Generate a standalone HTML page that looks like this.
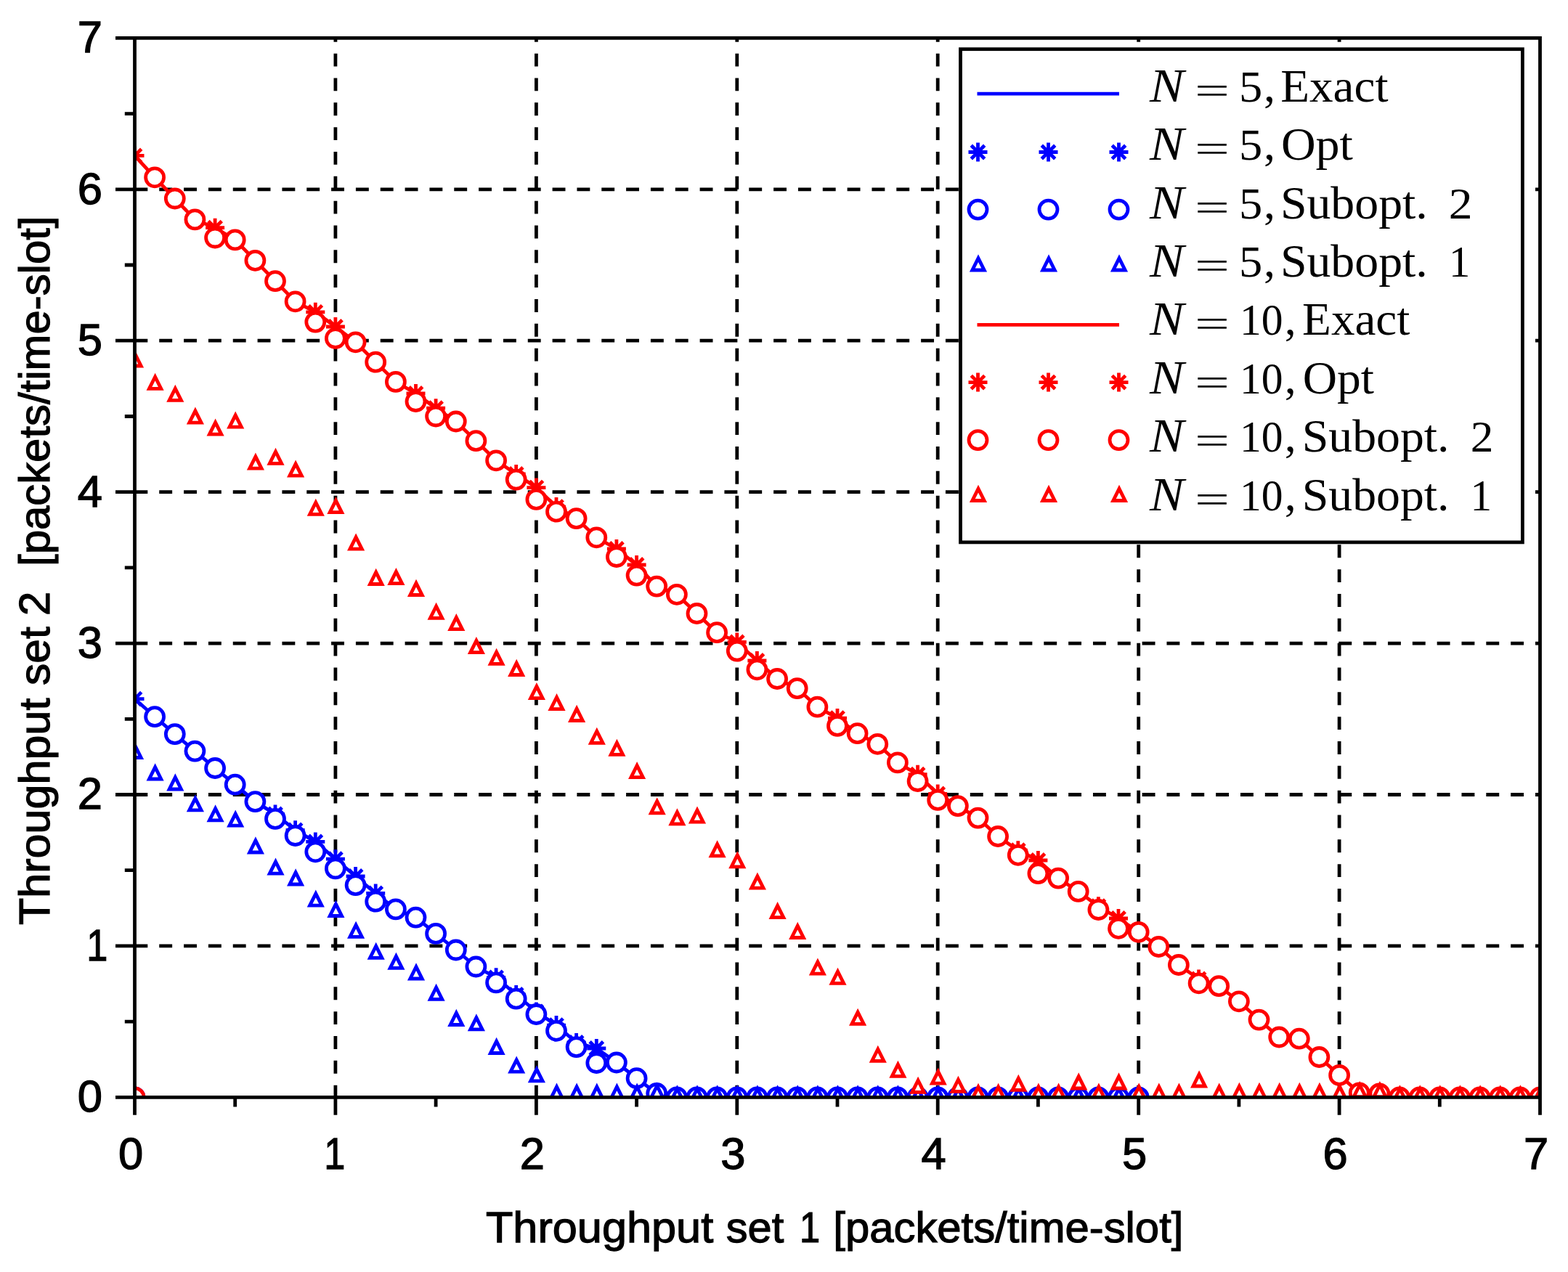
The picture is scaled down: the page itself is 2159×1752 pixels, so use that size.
<!DOCTYPE html>
<html><head><meta charset="utf-8"><title>Throughput plot</title>
<style>html,body{margin:0;padding:0;background:#fff;overflow:hidden}svg{display:block}</style>
</head><body>
<svg width="2159" height="1752" viewBox="0 0 2159 1752">
<rect width="2159" height="1752" fill="#fff"/>
<defs><clipPath id="ax"><rect x="185.5" y="52.4" width="1935" height="1458.9"/></clipPath></defs>
<path d="M461.9 1512.6V52.4M738.4 1512.6V52.4M1014.8 1512.6V52.4M1291.2 1512.6V52.4M1567.7 1512.6V52.4M1844.1 1512.6V52.4M185.4 1302.9H2120.5M185.4 1094.5H2120.5M185.4 886.1H2120.5M185.4 677.7H2120.5M185.4 469.2H2120.5M185.4 260.8H2120.5" stroke="#000" stroke-width="4.8" stroke-dasharray="17.9 15.935" fill="none"/>
<g clip-path="url(#ax)" stroke-width="4.8" stroke-linejoin="round">
<path d="M185.5 962.6 L213.1 987.2 L240.8 1011.1 L268.4 1034.6 L296.1 1058 L323.7 1080.7 L351.4 1104.1 L379 1121.4 L406.6 1143.3 L434.3 1159.4 L461.9 1183.2 L489.6 1207 L517.2 1230.4 L544.9 1252.4 L572.5 1263.7 L600.1 1285.9 L627.8 1308.5 L655.4 1331.5 L683.1 1346.3 L710.7 1370 L738.4 1393.5 L766 1412.1 L793.6 1436 L821.3 1444 L848.9 1463.5 L876.6 1485.2 L904.2 1506 L931.9 1511.3 L959.5 1511.3 L987.1 1511.3 L1014.8 1511.3 L1042.4 1511.3 L1070.1 1511.3 L1097.7 1511.3 L1125.4 1511.3 L1153 1511.3 L1180.6 1511.3 L1208.3 1511.3 L1235.9 1511.3 L1263.6 1511.3 L1291.2 1511.3 L1318.9 1511.3 L1346.5 1511.3 L1374.1 1511.3 L1401.8 1511.3 L1429.4 1511.3 L1457.1 1511.3 L1484.7 1511.3 L1512.4 1511.3 L1540 1511.3 L1567.7 1511.3" stroke="#0000ff" fill="none"/>
<g stroke-linecap="butt"><path d="M172.5 962.6H198.5M185.5 949.6V975.6M176.3 953.4L194.7 971.8M176.3 971.8L194.7 953.4" stroke="#0000ff"/><path d="M366 1121.4H392M379 1108.4V1134.4M369.8 1112.2L388.2 1130.6M369.8 1130.6L388.2 1112.2" stroke="#0000ff"/><path d="M393.6 1143.3H419.6M406.6 1130.3V1156.3M397.4 1134.1L415.8 1152.5M397.4 1152.5L415.8 1134.1" stroke="#0000ff"/><path d="M421.3 1159.4H447.3M434.3 1146.4V1172.4M425.1 1150.2L443.5 1168.6M425.1 1168.6L443.5 1150.2" stroke="#0000ff"/><path d="M448.9 1183.2H474.9M461.9 1170.2V1196.2M452.7 1174L471.1 1192.4M452.7 1192.4L471.1 1174" stroke="#0000ff"/><path d="M476.6 1207H502.6M489.6 1194V1220M480.4 1197.8L498.8 1216.2M480.4 1216.2L498.8 1197.8" stroke="#0000ff"/><path d="M504.2 1230.4H530.2M517.2 1217.4V1243.4M508 1221.2L526.4 1239.6M508 1239.6L526.4 1221.2" stroke="#0000ff"/><path d="M670.1 1346.3H696.1M683.1 1333.3V1359.3M673.9 1337.1L692.3 1355.5M673.9 1355.5L692.3 1337.1" stroke="#0000ff"/><path d="M697.7 1370H723.7M710.7 1357V1383M701.5 1360.8L719.9 1379.2M701.5 1379.2L719.9 1360.8" stroke="#0000ff"/><path d="M725.4 1393.5H751.4M738.4 1380.5V1406.5M729.2 1384.3L747.6 1402.7M729.2 1402.7L747.6 1384.3" stroke="#0000ff"/><path d="M753 1412.1H779M766 1399.1V1425.1M756.8 1402.9L775.2 1421.3M756.8 1421.3L775.2 1402.9" stroke="#0000ff"/><path d="M780.6 1436H806.6M793.6 1423V1449M784.4 1426.8L802.8 1445.2M784.4 1445.2L802.8 1426.8" stroke="#0000ff"/><path d="M808.3 1444H834.3M821.3 1431V1457M812.1 1434.8L830.5 1453.2M812.1 1453.2L830.5 1434.8" stroke="#0000ff"/></g>
<g stroke="#0000ff" fill="#fff"><circle cx="185.5" cy="1511.3" r="12.5"/><circle cx="213.1" cy="987.2" r="12.5"/><circle cx="240.8" cy="1011.1" r="12.5"/><circle cx="268.4" cy="1034.6" r="12.5"/><circle cx="296.1" cy="1058" r="12.5"/><circle cx="323.7" cy="1080.7" r="12.5"/><circle cx="351.4" cy="1104.1" r="12.5"/><circle cx="379" cy="1127.9" r="12.5"/><circle cx="406.6" cy="1151" r="12.5"/><circle cx="434.3" cy="1173.3" r="12.5"/><circle cx="461.9" cy="1196.4" r="12.5"/><circle cx="489.6" cy="1219.2" r="12.5"/><circle cx="517.2" cy="1241.7" r="12.5"/><circle cx="544.9" cy="1252.4" r="12.5"/><circle cx="572.5" cy="1263.7" r="12.5"/><circle cx="600.1" cy="1285.9" r="12.5"/><circle cx="627.8" cy="1308.5" r="12.5"/><circle cx="655.4" cy="1331.5" r="12.5"/><circle cx="683.1" cy="1353.4" r="12.5"/><circle cx="710.7" cy="1375.7" r="12.5"/><circle cx="738.4" cy="1397" r="12.5"/><circle cx="766" cy="1419.8" r="12.5"/><circle cx="793.6" cy="1442.1" r="12.5"/><circle cx="821.3" cy="1464" r="12.5"/><circle cx="848.9" cy="1463.5" r="12.5"/><circle cx="876.6" cy="1485.2" r="12.5"/><circle cx="904.2" cy="1506" r="12.5"/><circle cx="931.9" cy="1511.3" r="12.5"/><circle cx="959.5" cy="1511.3" r="12.5"/><circle cx="987.1" cy="1511.3" r="12.5"/><circle cx="1014.8" cy="1511.3" r="12.5"/><circle cx="1042.4" cy="1511.3" r="12.5"/><circle cx="1070.1" cy="1511.3" r="12.5"/><circle cx="1097.7" cy="1511.3" r="12.5"/><circle cx="1125.4" cy="1511.3" r="12.5"/><circle cx="1153" cy="1511.3" r="12.5"/><circle cx="1180.6" cy="1511.3" r="12.5"/><circle cx="1208.3" cy="1511.3" r="12.5"/><circle cx="1235.9" cy="1511.3" r="12.5"/><circle cx="1263.6" cy="1511.3" r="12.5"/><circle cx="1291.2" cy="1511.3" r="12.5"/><circle cx="1318.9" cy="1511.3" r="12.5"/><circle cx="1346.5" cy="1511.3" r="12.5"/><circle cx="1374.1" cy="1511.3" r="12.5"/><circle cx="1401.8" cy="1511.3" r="12.5"/><circle cx="1429.4" cy="1511.3" r="12.5"/><circle cx="1457.1" cy="1511.3" r="12.5"/><circle cx="1484.7" cy="1511.3" r="12.5"/><circle cx="1512.4" cy="1511.3" r="12.5"/><circle cx="1540" cy="1511.3" r="12.5"/><circle cx="1567.7" cy="1511.3" r="12.5"/></g>
<g stroke="#0000ff" fill="#fff" stroke-linejoin="miter"><path d="M186 1027.2L194.2 1043.5L177.8 1043.5Z"/><path d="M213.6 1056.7L221.8 1073L205.4 1073Z"/><path d="M241.3 1070.7L249.5 1087L233.1 1087Z"/><path d="M268.9 1099.6L277.1 1115.9L260.7 1115.9Z"/><path d="M296.6 1113.6L304.8 1129.9L288.4 1129.9Z"/><path d="M324.2 1120.8L332.4 1137.1L316 1137.1Z"/><path d="M351.9 1157.7L360.1 1174L343.7 1174Z"/><path d="M379.5 1186.8L387.7 1203.1L371.3 1203.1Z"/><path d="M407.1 1201.7L415.3 1218L398.9 1218Z"/><path d="M434.8 1230.8L443 1247.1L426.6 1247.1Z"/><path d="M462.4 1245.2L470.6 1261.5L454.2 1261.5Z"/><path d="M490.1 1274L498.3 1290.3L481.9 1290.3Z"/><path d="M517.7 1303L525.9 1319.3L509.5 1319.3Z"/><path d="M545.4 1317.1L553.6 1333.4L537.2 1333.4Z"/><path d="M573 1331.7L581.2 1348L564.8 1348Z"/><path d="M600.6 1360L608.8 1376.3L592.4 1376.3Z"/><path d="M628.3 1395.2L636.5 1411.5L620.1 1411.5Z"/><path d="M655.9 1401.6L664.1 1417.9L647.7 1417.9Z"/><path d="M683.6 1434.2L691.8 1450.5L675.4 1450.5Z"/><path d="M711.2 1459.9L719.4 1476.2L703 1476.2Z"/><path d="M738.9 1472.6L747.1 1488.9L730.7 1488.9Z"/><path d="M766.5 1496.9L774.7 1513.2L758.3 1513.2Z"/><path d="M794.1 1496.9L802.3 1513.2L785.9 1513.2Z"/><path d="M821.8 1496.9L830 1513.2L813.6 1513.2Z"/><path d="M849.4 1496.9L857.6 1513.2L841.2 1513.2Z"/><path d="M877.1 1496.9L885.3 1513.2L868.9 1513.2Z"/><path d="M904.7 1495.6L912.9 1511.9L896.5 1511.9Z"/><path d="M932.4 1499.6L940.6 1515.9L924.2 1515.9Z"/><path d="M960 1499.6L968.2 1515.9L951.8 1515.9Z"/><path d="M987.6 1499.6L995.8 1515.9L979.4 1515.9Z"/><path d="M1015.3 1499.6L1023.5 1515.9L1007.1 1515.9Z"/><path d="M1042.9 1499.6L1051.1 1515.9L1034.7 1515.9Z"/><path d="M1070.6 1499.6L1078.8 1515.9L1062.4 1515.9Z"/><path d="M1098.2 1499.6L1106.4 1515.9L1090 1515.9Z"/><path d="M1125.9 1499.6L1134.1 1515.9L1117.7 1515.9Z"/><path d="M1153.5 1499.6L1161.7 1515.9L1145.3 1515.9Z"/><path d="M1181.1 1499.6L1189.3 1515.9L1172.9 1515.9Z"/><path d="M1208.8 1499.6L1217 1515.9L1200.6 1515.9Z"/><path d="M1236.4 1499.6L1244.6 1515.9L1228.2 1515.9Z"/><path d="M1264.1 1499.6L1272.3 1515.9L1255.9 1515.9Z"/><path d="M1291.7 1499.6L1299.9 1515.9L1283.5 1515.9Z"/><path d="M1319.4 1499.6L1327.6 1515.9L1311.2 1515.9Z"/><path d="M1347 1499.6L1355.2 1515.9L1338.8 1515.9Z"/><path d="M1374.6 1499.6L1382.8 1515.9L1366.4 1515.9Z"/><path d="M1402.3 1499.6L1410.5 1515.9L1394.1 1515.9Z"/><path d="M1429.9 1499.6L1438.1 1515.9L1421.7 1515.9Z"/><path d="M1457.6 1499.6L1465.8 1515.9L1449.4 1515.9Z"/><path d="M1485.2 1499.6L1493.4 1515.9L1477 1515.9Z"/><path d="M1512.9 1499.6L1521.1 1515.9L1504.7 1515.9Z"/><path d="M1540.5 1499.6L1548.7 1515.9L1532.3 1515.9Z"/><path d="M1568.2 1499.6L1576.4 1515.9L1560 1515.9Z"/></g>
<path d="M185.5 214.4 L213.1 244.3 L240.8 273.5 L268.4 302.4 L296.1 313.7 L323.7 330.4 L351.4 358.8 L379 387.2 L406.6 415.3 L434.3 429.8 L461.9 450 L489.6 471.3 L517.2 498.7 L544.9 525.9 L572.5 542 L600.1 562.2 L627.8 580.5 L655.4 607.2 L683.1 634.3 L710.7 653 L738.4 671.6 L766 698.1 L793.6 714.1 L821.3 740.3 L848.9 756 L876.6 778 L904.2 807.6 L931.9 818.8 L959.5 845 L987.1 871.2 L1014.8 884.4 L1042.4 910 L1070.1 935 L1097.7 948.1 L1125.4 973.7 L1153 989.1 L1180.6 1010.2 L1208.3 1024.8 L1235.9 1050.4 L1263.6 1066.7 L1291.2 1093.5 L1318.9 1110.1 L1346.5 1126.6 L1374.1 1152 L1401.8 1171.2 L1429.4 1185 L1457.1 1209.6 L1484.7 1227.9 L1512.4 1248.2 L1540 1265 L1567.7 1283.8 L1595.3 1304 L1622.9 1329 L1650.6 1348.4 L1678.2 1358.2 L1705.9 1379.3 L1733.5 1404.6 L1761.2 1428.5 L1788.8 1430.7 L1816.4 1456 L1844.1 1480.9 L1871.7 1505.3 L1899.4 1506.3 L1927 1511.3 L1954.7 1511.3 L1982.3 1511.3 L2009.9 1511.3 L2037.6 1511.3 L2065.2 1511.3 L2092.9 1511.3 L2120.5 1511.3" stroke="#ff0000" fill="none"/>
<g stroke-linecap="butt"><path d="M172.5 214.4H198.5M185.5 201.4V227.4M176.3 205.2L194.7 223.6M176.3 223.6L194.7 205.2" stroke="#ff0000"/><path d="M283.1 313.7H309.1M296.1 300.7V326.7M286.9 304.5L305.3 322.9M286.9 322.9L305.3 304.5" stroke="#ff0000"/><path d="M421.3 429.8H447.3M434.3 416.8V442.8M425.1 420.6L443.5 439M425.1 439L443.5 420.6" stroke="#ff0000"/><path d="M448.9 450H474.9M461.9 437V463M452.7 440.8L471.1 459.2M452.7 459.2L471.1 440.8" stroke="#ff0000"/><path d="M559.5 542H585.5M572.5 529V555M563.3 532.8L581.7 551.2M563.3 551.2L581.7 532.8" stroke="#ff0000"/><path d="M587.1 562.2H613.1M600.1 549.2V575.2M590.9 553L609.3 571.4M590.9 571.4L609.3 553" stroke="#ff0000"/><path d="M697.7 653H723.7M710.7 640V666M701.5 643.8L719.9 662.2M701.5 662.2L719.9 643.8" stroke="#ff0000"/><path d="M725.4 671.6H751.4M738.4 658.6V684.6M729.2 662.4L747.6 680.8M729.2 680.8L747.6 662.4" stroke="#ff0000"/><path d="M753 698.1H779M766 685.1V711.1M756.8 688.9L775.2 707.3M756.8 707.3L775.2 688.9" stroke="#ff0000"/><path d="M835.9 756H861.9M848.9 743V769M839.7 746.8L858.1 765.2M839.7 765.2L858.1 746.8" stroke="#ff0000"/><path d="M863.6 778H889.6M876.6 765V791M867.4 768.8L885.8 787.2M867.4 787.2L885.8 768.8" stroke="#ff0000"/><path d="M1001.8 884.4H1027.8M1014.8 871.4V897.4M1005.6 875.2L1024 893.6M1005.6 893.6L1024 875.2" stroke="#ff0000"/><path d="M1029.4 910H1055.4M1042.4 897V923M1033.2 900.8L1051.6 919.2M1033.2 919.2L1051.6 900.8" stroke="#ff0000"/><path d="M1140 989.1H1166M1153 976.1V1002.1M1143.8 979.9L1162.2 998.3M1143.8 998.3L1162.2 979.9" stroke="#ff0000"/><path d="M1250.6 1066.7H1276.6M1263.6 1053.7V1079.7M1254.4 1057.5L1272.8 1075.9M1254.4 1075.9L1272.8 1057.5" stroke="#ff0000"/><path d="M1278.2 1093.5H1304.2M1291.2 1080.5V1106.5M1282 1084.3L1300.4 1102.7M1282 1102.7L1300.4 1084.3" stroke="#ff0000"/><path d="M1388.8 1171.2H1414.8M1401.8 1158.2V1184.2M1392.6 1162L1411 1180.4M1392.6 1180.4L1411 1162" stroke="#ff0000"/><path d="M1416.4 1185H1442.4M1429.4 1172V1198M1420.2 1175.8L1438.6 1194.2M1420.2 1194.2L1438.6 1175.8" stroke="#ff0000"/><path d="M1499.4 1248.2H1525.4M1512.4 1235.2V1261.2M1503.2 1239L1521.6 1257.4M1503.2 1257.4L1521.6 1239" stroke="#ff0000"/><path d="M1527 1265H1553M1540 1252V1278M1530.8 1255.8L1549.2 1274.2M1530.8 1274.2L1549.2 1255.8" stroke="#ff0000"/><path d="M1637.6 1348.4H1663.6M1650.6 1335.4V1361.4M1641.4 1339.2L1659.8 1357.6M1641.4 1357.6L1659.8 1339.2" stroke="#ff0000"/></g>
<g stroke="#ff0000" fill="#fff"><circle cx="185.5" cy="1511.3" r="12.5"/><circle cx="213.1" cy="244.3" r="12.5"/><circle cx="240.8" cy="273.5" r="12.5"/><circle cx="268.4" cy="302.4" r="12.5"/><circle cx="296.1" cy="327.5" r="12.5"/><circle cx="323.7" cy="330.4" r="12.5"/><circle cx="351.4" cy="358.8" r="12.5"/><circle cx="379" cy="387.2" r="12.5"/><circle cx="406.6" cy="415.3" r="12.5"/><circle cx="434.3" cy="443.6" r="12.5"/><circle cx="461.9" cy="466" r="12.5"/><circle cx="489.6" cy="471.3" r="12.5"/><circle cx="517.2" cy="498.7" r="12.5"/><circle cx="544.9" cy="525.9" r="12.5"/><circle cx="572.5" cy="553" r="12.5"/><circle cx="600.1" cy="573.5" r="12.5"/><circle cx="627.8" cy="580.5" r="12.5"/><circle cx="655.4" cy="607.2" r="12.5"/><circle cx="683.1" cy="634.3" r="12.5"/><circle cx="710.7" cy="660.6" r="12.5"/><circle cx="738.4" cy="687.9" r="12.5"/><circle cx="766" cy="704.7" r="12.5"/><circle cx="793.6" cy="714.1" r="12.5"/><circle cx="821.3" cy="740.3" r="12.5"/><circle cx="848.9" cy="767" r="12.5"/><circle cx="876.6" cy="792.6" r="12.5"/><circle cx="904.2" cy="807.6" r="12.5"/><circle cx="931.9" cy="818.8" r="12.5"/><circle cx="959.5" cy="845" r="12.5"/><circle cx="987.1" cy="871.2" r="12.5"/><circle cx="1014.8" cy="896.6" r="12.5"/><circle cx="1042.4" cy="922.3" r="12.5"/><circle cx="1070.1" cy="935" r="12.5"/><circle cx="1097.7" cy="948.1" r="12.5"/><circle cx="1125.4" cy="973.7" r="12.5"/><circle cx="1153" cy="999.9" r="12.5"/><circle cx="1180.6" cy="1010.2" r="12.5"/><circle cx="1208.3" cy="1024.8" r="12.5"/><circle cx="1235.9" cy="1050.4" r="12.5"/><circle cx="1263.6" cy="1076" r="12.5"/><circle cx="1291.2" cy="1101.9" r="12.5"/><circle cx="1318.9" cy="1110.1" r="12.5"/><circle cx="1346.5" cy="1126.6" r="12.5"/><circle cx="1374.1" cy="1152" r="12.5"/><circle cx="1401.8" cy="1177.8" r="12.5"/><circle cx="1429.4" cy="1203.1" r="12.5"/><circle cx="1457.1" cy="1209.6" r="12.5"/><circle cx="1484.7" cy="1227.9" r="12.5"/><circle cx="1512.4" cy="1253" r="12.5"/><circle cx="1540" cy="1278.8" r="12.5"/><circle cx="1567.7" cy="1283.8" r="12.5"/><circle cx="1595.3" cy="1304" r="12.5"/><circle cx="1622.9" cy="1329" r="12.5"/><circle cx="1650.6" cy="1354.3" r="12.5"/><circle cx="1678.2" cy="1358.2" r="12.5"/><circle cx="1705.9" cy="1379.3" r="12.5"/><circle cx="1733.5" cy="1404.6" r="12.5"/><circle cx="1761.2" cy="1428.5" r="12.5"/><circle cx="1788.8" cy="1430.7" r="12.5"/><circle cx="1816.4" cy="1456" r="12.5"/><circle cx="1844.1" cy="1480.9" r="12.5"/><circle cx="1871.7" cy="1505.3" r="12.5"/><circle cx="1899.4" cy="1506.3" r="12.5"/><circle cx="1927" cy="1511.3" r="12.5"/><circle cx="1954.7" cy="1511.3" r="12.5"/><circle cx="1982.3" cy="1511.3" r="12.5"/><circle cx="2009.9" cy="1511.3" r="12.5"/><circle cx="2037.6" cy="1511.3" r="12.5"/><circle cx="2065.2" cy="1511.3" r="12.5"/><circle cx="2092.9" cy="1511.3" r="12.5"/><circle cx="2120.5" cy="1511.3" r="12.5"/></g>
<g stroke="#ff0000" fill="#fff" stroke-linejoin="miter"><path d="M186 487.7L194.2 504L177.8 504Z"/><path d="M213.6 519L221.8 535.3L205.4 535.3Z"/><path d="M241.3 535.1L249.5 551.4L233.1 551.4Z"/><path d="M268.9 565.9L277.1 582.2L260.7 582.2Z"/><path d="M296.6 581.8L304.8 598.1L288.4 598.1Z"/><path d="M324.2 571.9L332.4 588.2L316 588.2Z"/><path d="M351.9 628.9L360.1 645.2L343.7 645.2Z"/><path d="M379.5 622L387.7 638.3L371.3 638.3Z"/><path d="M407.1 638.9L415.3 655.2L398.9 655.2Z"/><path d="M434.8 692L443 708.3L426.6 708.3Z"/><path d="M462.4 689.3L470.6 705.6L454.2 705.6Z"/><path d="M490.1 739.9L498.3 756.2L481.9 756.2Z"/><path d="M517.7 788.2L525.9 804.5L509.5 804.5Z"/><path d="M545.4 787.3L553.6 803.6L537.2 803.6Z"/><path d="M573 803.2L581.2 819.5L564.8 819.5Z"/><path d="M600.6 835L608.8 851.3L592.4 851.3Z"/><path d="M628.3 850.3L636.5 866.6L620.1 866.6Z"/><path d="M655.9 882.3L664.1 898.6L647.7 898.6Z"/><path d="M683.6 898L691.8 914.3L675.4 914.3Z"/><path d="M711.2 913.2L719.4 929.5L703 929.5Z"/><path d="M738.9 945.3L747.1 961.6L730.7 961.6Z"/><path d="M766.5 960.3L774.7 976.6L758.3 976.6Z"/><path d="M794.1 976.2L802.3 992.5L785.9 992.5Z"/><path d="M821.8 1007L830 1023.3L813.6 1023.3Z"/><path d="M849.4 1023L857.6 1039.3L841.2 1039.3Z"/><path d="M877.1 1054.4L885.3 1070.7L868.9 1070.7Z"/><path d="M904.7 1103.6L912.9 1119.9L896.5 1119.9Z"/><path d="M932.4 1118.6L940.6 1134.9L924.2 1134.9Z"/><path d="M960 1115.8L968.2 1132.1L951.8 1132.1Z"/><path d="M987.6 1162.5L995.8 1178.8L979.4 1178.8Z"/><path d="M1015.3 1177.5L1023.5 1193.8L1007.1 1193.8Z"/><path d="M1042.9 1206.8L1051.1 1223.1L1034.7 1223.1Z"/><path d="M1070.6 1247.3L1078.8 1263.6L1062.4 1263.6Z"/><path d="M1098.2 1275.2L1106.4 1291.5L1090 1291.5Z"/><path d="M1125.9 1324.9L1134.1 1341.2L1117.7 1341.2Z"/><path d="M1153.5 1338L1161.7 1354.3L1145.3 1354.3Z"/><path d="M1181.1 1394.1L1189.3 1410.4L1172.9 1410.4Z"/><path d="M1208.8 1445L1217 1461.3L1200.6 1461.3Z"/><path d="M1236.4 1466.1L1244.6 1482.4L1228.2 1482.4Z"/><path d="M1264.1 1488L1272.3 1504.3L1255.9 1504.3Z"/><path d="M1291.7 1475.8L1299.9 1492.1L1283.5 1492.1Z"/><path d="M1319.4 1487L1327.6 1503.3L1311.2 1503.3Z"/><path d="M1347 1497.1L1355.2 1513.4L1338.8 1513.4Z"/><path d="M1374.6 1497.1L1382.8 1513.4L1366.4 1513.4Z"/><path d="M1402.3 1485L1410.5 1501.3L1394.1 1501.3Z"/><path d="M1429.9 1496.8L1438.1 1513.1L1421.7 1513.1Z"/><path d="M1457.6 1496.8L1465.8 1513.1L1449.4 1513.1Z"/><path d="M1485.2 1482.7L1493.4 1499L1477 1499Z"/><path d="M1512.9 1496.8L1521.1 1513.1L1504.7 1513.1Z"/><path d="M1540.5 1482.7L1548.7 1499L1532.3 1499Z"/><path d="M1568.2 1496.8L1576.4 1513.1L1560 1513.1Z"/><path d="M1595.8 1496.8L1604 1513.1L1587.6 1513.1Z"/><path d="M1623.4 1496.8L1631.6 1513.1L1615.2 1513.1Z"/><path d="M1651.1 1479.7L1659.3 1496L1642.9 1496Z"/><path d="M1678.7 1496.8L1686.9 1513.1L1670.5 1513.1Z"/><path d="M1706.4 1496.1L1714.6 1512.4L1698.2 1512.4Z"/><path d="M1734 1496.1L1742.2 1512.4L1725.8 1512.4Z"/><path d="M1761.7 1496.2L1769.9 1512.5L1753.5 1512.5Z"/><path d="M1789.3 1496.2L1797.5 1512.5L1781.1 1512.5Z"/><path d="M1816.9 1496.2L1825.1 1512.5L1808.7 1512.5Z"/><path d="M1844.6 1496.6L1852.8 1512.9L1836.4 1512.9Z"/><path d="M1872.2 1494.4L1880.4 1510.7L1864 1510.7Z"/><path d="M1899.9 1494.4L1908.1 1510.7L1891.7 1510.7Z"/><path d="M1927.5 1499.6L1935.7 1515.9L1919.3 1515.9Z"/><path d="M1955.2 1499.6L1963.4 1515.9L1947 1515.9Z"/><path d="M1982.8 1499.6L1991 1515.9L1974.6 1515.9Z"/><path d="M2010.4 1499.6L2018.6 1515.9L2002.2 1515.9Z"/><path d="M2038.1 1499.6L2046.3 1515.9L2029.9 1515.9Z"/><path d="M2065.7 1499.6L2073.9 1515.9L2057.5 1515.9Z"/><path d="M2093.4 1499.6L2101.6 1515.9L2085.2 1515.9Z"/><path d="M2121 1499.6L2129.2 1515.9L2112.8 1515.9Z"/></g>
</g>
<path d="M185.5 1511.3H2120.5V52.4H185.5ZM185.5 1511.3v24.4M185.5 1511.3h-26.5M461.9 1511.3v24.4M185.5 1302.9h-26.5M738.4 1511.3v24.4M185.5 1094.5h-26.5M1014.8 1511.3v24.4M185.5 886.1h-26.5M1291.2 1511.3v24.4M185.5 677.7h-26.5M1567.7 1511.3v24.4M185.5 469.2h-26.5M1844.1 1511.3v24.4M185.5 260.8h-26.5M2120.5 1511.3v24.4M185.5 52.4h-26.5M323.7 1511.3v13.3M185.5 1407.1h-13.7M600.1 1511.3v13.3M185.5 1198.7h-13.7M876.6 1511.3v13.3M185.5 990.3h-13.7M1153 1511.3v13.3M185.5 781.9h-13.7M1429.4 1511.3v13.3M185.5 573.5h-13.7M1705.9 1511.3v13.3M185.5 365h-13.7M1982.3 1511.3v13.3M185.5 156.6h-13.7" stroke="#000" stroke-width="4.8" fill="none" stroke-linecap="butt"/>
<g font-family="Liberation Sans, Arial, sans-serif" font-size="61.5" fill="#000" stroke="#000" stroke-width="1.3"><text x="180" y="1609.6" text-anchor="middle">0</text><text x="140.9" y="1531.1" text-anchor="end">0</text><text transform="matrix(0.85 0 0 1 446.3 1609.6)">1</text><text transform="matrix(0.85 0 0 1 119.3 1322.7)">1</text><text x="732.9" y="1609.6" text-anchor="middle">2</text><text x="140.9" y="1114.3" text-anchor="end">2</text><text x="1009.3" y="1609.6" text-anchor="middle">3</text><text x="140.9" y="905.9" text-anchor="end">3</text><text x="1285.7" y="1609.6" text-anchor="middle">4</text><text x="140.9" y="697.5" text-anchor="end">4</text><text x="1562.2" y="1609.6" text-anchor="middle">5</text><text x="140.9" y="489.1" text-anchor="end">5</text><text x="1838.6" y="1609.6" text-anchor="middle">6</text><text x="140.9" y="280.7" text-anchor="end">6</text><text x="2115" y="1609.6" text-anchor="middle">7</text><text x="140.9" y="72.3" text-anchor="end">7</text></g>
<g font-family="Liberation Sans, Arial, sans-serif" font-size="59.5" fill="#000" stroke="#000" stroke-width="1.25">
<text transform="matrix(1.0297 0 0 1 668.9 1710.8)">Throughput</text>
<text transform="matrix(1 0 0 1 999.8 1710.8)">set</text>
<text transform="matrix(0.85 0 0 1 1101 1710.8)">1</text>
<text transform="matrix(1.0057 0 0 1 1147.3 1710.8)">[packets/time-slot]</text>
<text transform="translate(67.5 1273) rotate(-90) matrix(1.0267 0 0 1 -1 0)">Throughput</text>
<text transform="translate(67.5 942.9) rotate(-90) matrix(1.0154 0 0 1 -1 0)">set</text>
<text transform="translate(67.5 845.9) rotate(-90) matrix(1.0034 0 0 1 -2 0)">2</text>
<text transform="translate(67.5 776) rotate(-90) matrix(1.0064 0 0 1 -4 0)">[packets/time-slot]</text>
</g>
<rect x="1322.5" y="67.7" width="773.9" height="679.2" fill="#fff" stroke="#000" stroke-width="4.8"/>
<path d="M1345.5 129.2H1541" stroke="#0000ff" stroke-width="4.8"/><g stroke-width="4.8"><path d="M1333.5 209.5H1359.5M1346.5 196.5V222.5M1337.3 200.3L1355.7 218.7M1337.3 218.7L1355.7 200.3" stroke="#0000ff"/><path d="M1430.5 209.5H1456.5M1443.5 196.5V222.5M1434.3 200.3L1452.7 218.7M1434.3 218.7L1452.7 200.3" stroke="#0000ff"/><path d="M1527.5 209.5H1553.5M1540.5 196.5V222.5M1531.3 200.3L1549.7 218.7M1531.3 218.7L1549.7 200.3" stroke="#0000ff"/></g><g stroke="#0000ff" fill="#fff" stroke-width="4.8"><circle cx="1346.5" cy="288.6" r="12.5"/><circle cx="1443.5" cy="288.6" r="12.5"/><circle cx="1540.5" cy="288.6" r="12.5"/></g><g stroke="#0000ff" fill="#fff" stroke-width="4.8"><path d="M1347 355.7L1355.2 372L1338.8 372Z"/><path d="M1444 355.7L1452.2 372L1435.8 372Z"/><path d="M1541 355.7L1549.2 372L1532.8 372Z"/></g><path d="M1345.5 447.3H1541" stroke="#ff0000" stroke-width="4.8"/><g stroke-width="4.8"><path d="M1333.5 526.6H1359.5M1346.5 513.6V539.6M1337.3 517.4L1355.7 535.8M1337.3 535.8L1355.7 517.4" stroke="#ff0000"/><path d="M1430.5 526.6H1456.5M1443.5 513.6V539.6M1434.3 517.4L1452.7 535.8M1434.3 535.8L1452.7 517.4" stroke="#ff0000"/><path d="M1527.5 526.6H1553.5M1540.5 513.6V539.6M1531.3 517.4L1549.7 535.8M1531.3 535.8L1549.7 517.4" stroke="#ff0000"/></g><g stroke="#ff0000" fill="#fff" stroke-width="4.8"><circle cx="1346.5" cy="606.1" r="12.5"/><circle cx="1443.5" cy="606.1" r="12.5"/><circle cx="1540.5" cy="606.1" r="12.5"/></g><g stroke="#ff0000" fill="#fff" stroke-width="4.8"><path d="M1347 673.2L1355.2 689.5L1338.8 689.5Z"/><path d="M1444 673.2L1452.2 689.5L1435.8 689.5Z"/><path d="M1541 673.2L1549.2 689.5L1532.8 689.5Z"/></g>
<g font-family="Liberation Serif, Times New Roman, serif" font-size="64" fill="#000"><text transform="matrix(1.107 0 0 1.01 1583.1 140)" font-style="italic">N</text><text transform="matrix(1.33 0 0 0.87 1645.1 143)">=</text><text transform="matrix(1.008 0 0 0.969 1705.9 140)">5</text><text transform="matrix(1 0 0 1 1740.1 140)">,</text><text transform="matrix(1.018 0 0 1 1763.2 140)">Exact</text><text transform="matrix(1.107 0 0 1.01 1583.1 220.4)" font-style="italic">N</text><text transform="matrix(1.33 0 0 0.87 1645.1 223.4)">=</text><text transform="matrix(1.008 0 0 0.969 1705.9 220.4)">5</text><text transform="matrix(1 0 0 1 1740.1 220.4)">,</text><text transform="matrix(1.031 0 0 1 1763.9 220.4)">Opt</text><text transform="matrix(1.107 0 0 1.01 1583.1 300.7)" font-style="italic">N</text><text transform="matrix(1.33 0 0 0.87 1645.1 303.7)">=</text><text transform="matrix(1.008 0 0 0.969 1705.9 300.7)">5</text><text transform="matrix(1 0 0 1 1740.1 300.7)">,</text><text transform="matrix(1.028 0 0 1 1762.9 300.7)">Subopt.</text><text transform="matrix(1.024 0 0 0.969 1994.8 300.7)">2</text><text transform="matrix(1.107 0 0 1.01 1583.1 381.1)" font-style="italic">N</text><text transform="matrix(1.33 0 0 0.87 1645.1 384.1)">=</text><text transform="matrix(1.008 0 0 0.969 1705.9 381.1)">5</text><text transform="matrix(1 0 0 1 1740.1 381.1)">,</text><text transform="matrix(1.028 0 0 1 1762.9 381.1)">Subopt.</text><text transform="matrix(0.918 0 0 0.969 1994.9 381.1)">1</text><text transform="matrix(1.107 0 0 1.01 1583.1 461.4)" font-style="italic">N</text><text transform="matrix(1.33 0 0 0.87 1645.1 464.4)">=</text><text transform="matrix(0.932 0 0 0.974 1707 461.4)">10</text><text transform="matrix(1 0 0 1 1768.8 461.4)">,</text><text transform="matrix(1.018 0 0 1 1793.1 461.4)">Exact</text><text transform="matrix(1.107 0 0 1.01 1583.1 541.8)" font-style="italic">N</text><text transform="matrix(1.33 0 0 0.87 1645.1 544.8)">=</text><text transform="matrix(0.932 0 0 0.974 1707 541.8)">10</text><text transform="matrix(1 0 0 1 1768.8 541.8)">,</text><text transform="matrix(1.023 0 0 1 1793.7 541.8)">Opt</text><text transform="matrix(1.107 0 0 1.01 1583.1 622.2)" font-style="italic">N</text><text transform="matrix(1.33 0 0 0.87 1645.1 625.2)">=</text><text transform="matrix(0.932 0 0 0.974 1707 622.2)">10</text><text transform="matrix(1 0 0 1 1768.8 622.2)">,</text><text transform="matrix(1.028 0 0 1 1792.7 622.2)">Subopt.</text><text transform="matrix(0.99 0 0 0.969 2024.8 622.2)">2</text><text transform="matrix(1.107 0 0 1.01 1583.1 702.5)" font-style="italic">N</text><text transform="matrix(1.33 0 0 0.87 1645.1 705.5)">=</text><text transform="matrix(0.932 0 0 0.974 1707 702.5)">10</text><text transform="matrix(1 0 0 1 1768.8 702.5)">,</text><text transform="matrix(1.028 0 0 1 1792.7 702.5)">Subopt.</text><text transform="matrix(0.927 0 0 0.969 2024.4 702.5)">1</text></g>
</svg>
</body></html>
